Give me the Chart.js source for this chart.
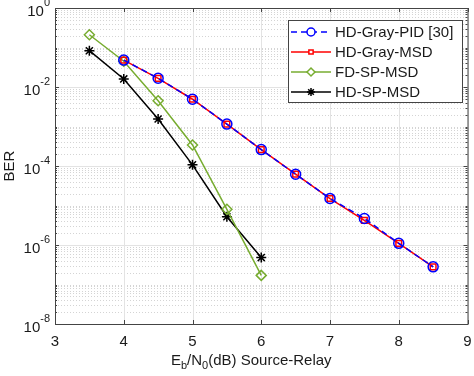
<!DOCTYPE html>
<html>
<head>
<meta charset="utf-8">
<script src="https://cdn.jsdelivr.net/npm/chart.js@4.4.1/dist/chart.umd.min.js"></script>
<style>
  html, body { margin: 0; padding: 0; background: #fff; }
  #wrap { width: 474px; height: 376px; }
</style>
</head>
<body>
<div id="wrap"><canvas id="chartCanvas" width="474" height="376"></canvas></div>
<script>
// dati
const snrHD = [4, 4.5, 5, 5.5, 6, 6.5, 7, 7.5, 8, 8.5];
const berGrayPID = [4.8e-2, 1.66e-2, 4.9e-3, 1.15e-3, 2.6e-4, 6.2e-5, 1.5e-5, 4.7e-6, 1.1e-6, 2.8e-7];
const berGrayMSD = [4.8e-2, 1.66e-2, 4.9e-3, 1.15e-3, 2.6e-4, 6.2e-5, 1.5e-5, 4.2e-6, 1.1e-6, 2.8e-7];
const snrSP = [3.5, 4, 4.5, 5, 5.5, 6];
const berFDSP = [0.21, 0.045, 4.5e-3, 3.4e-4, 8e-6, 1.7e-7];
const berHDSP = [0.083, 0.016, 1.55e-3, 1.07e-4, 5.2e-6, 4.8e-7];

const xTicks = [3, 4, 5, 6, 7, 8, 9];
const yMajorExp = [0, -2, -4, -6, -8];
const seriesNames = ['HD-Gray-PID [30]', 'HD-Gray-MSD', 'FD-SP-MSD', 'HD-SP-MSD'];

const FONT = '"Liberation Sans", Arial, sans-serif';
const pts = (xs, ys) => xs.map((x, i) => ({ x: x, y: ys[i] }));

const styles = [
    { color: '#0000ff', dash: [6, 4], point: 'circle', radius: 5 },
    { color: '#ff0000', dash: [], point: 'rect', radius: 4 },
    { color: '#77ac30', dash: [], point: 'rectRot', radius: 5 },
    { color: '#000000', dash: [], point: 'star', radius: 5 }
];
const seriesData = [pts(snrHD, berGrayPID), pts(snrHD, berGrayMSD), pts(snrSP, berFDSP), pts(snrSP, berHDSP)];

const datasets = seriesNames.map((name, i) => ({
    label: name,
    data: seriesData[i],
    borderColor: styles[i].color,
    backgroundColor: 'rgba(0,0,0,0)',
    borderWidth: 1.5,
    borderDash: styles[i].dash,
    pointStyle: styles[i].point,
    pointRadius: styles[i].radius,
    pointBorderColor: styles[i].color,
    pointBackgroundColor: 'rgba(0,0,0,0)',
    pointBorderWidth: 1.5,
    tension: 0,
    fill: false
}));

// griglia stile MATLAB
const gridPlugin = {
    id: 'matlabGrid',
    beforeDatasetsDraw(chart) {
        const { ctx, chartArea: a, scales: { x, y } } = chart;
        ctx.save();
        // minor orizzontali tratteggiate
        ctx.strokeStyle = '#d4d4d4';
        ctx.lineWidth = 1;
        ctx.setLineDash([1, 2]);
        for (let e = -8; e < 0; e++) {
            for (let k = 1; k <= 9; k++) {
                if (k === 1 && e % 2 === 0) continue;
                const py = Math.round(y.getPixelForValue(k * Math.pow(10, e))) + 0.5;
                ctx.beginPath(); ctx.moveTo(a.left, py); ctx.lineTo(a.right, py); ctx.stroke();
            }
        }
        // major
        ctx.setLineDash([]);
        ctx.strokeStyle = '#e3e3e3';
        yMajorExp.forEach(e => {
            const py = Math.round(y.getPixelForValue(Math.pow(10, e))) + 0.5;
            ctx.beginPath(); ctx.moveTo(a.left, py); ctx.lineTo(a.right, py); ctx.stroke();
        });
        xTicks.forEach(v => {
            const px = Math.round(x.getPixelForValue(v)) + 0.5;
            ctx.beginPath(); ctx.moveTo(px, a.top); ctx.lineTo(px, a.bottom); ctx.stroke();
        });
        ctx.restore();
    },
    afterDatasetsDraw(chart) {
        const { ctx, chartArea: a, scales: { x, y } } = chart;
        ctx.save();
        ctx.strokeStyle = '#444';
        ctx.lineWidth = 1;
        ctx.strokeRect(a.left + 0.5, a.top + 0.5, a.right - a.left, a.bottom - a.top);
        // tick interni
        xTicks.forEach(v => {
            const px = Math.round(x.getPixelForValue(v)) + 0.5;
            ctx.beginPath();
            ctx.moveTo(px, a.bottom); ctx.lineTo(px, a.bottom - 4);
            ctx.moveTo(px, a.top); ctx.lineTo(px, a.top + 4);
            ctx.stroke();
        });
        for (let e = -8; e <= 0; e++) {
            for (let k = 1; k <= 9; k++) {
                if (e === 0 && k > 1) continue;
                const major = k === 1 && e % 2 === 0;
                const len = major ? 4 : 2;
                const py = Math.round(y.getPixelForValue(k * Math.pow(10, e))) + 0.5;
                ctx.beginPath();
                ctx.moveTo(a.left, py); ctx.lineTo(a.left + len, py);
                ctx.moveTo(a.right, py); ctx.lineTo(a.right - len, py);
                ctx.stroke();
            }
        }
        ctx.restore();
    },
    afterDraw(chart) {
        const { ctx, chartArea: a, scales: { x, y } } = chart;
        ctx.save();
        ctx.fillStyle = '#1a1a1a';
        // etichette x
        ctx.font = '15px ' + FONT;
        ctx.textAlign = 'center';
        ctx.textBaseline = 'middle';
        xTicks.forEach(v => ctx.fillText(String(v), x.getPixelForValue(v), a.bottom + 18));
        // etichette y con esponente
        yMajorExp.forEach(e => {
            const py = y.getPixelForValue(Math.pow(10, e));
            const sup = e === 0 ? '0' : '-' + Math.abs(e);
            ctx.font = '11px ' + FONT;
            const sw = ctx.measureText(sup).width;
            const right = a.left - 5;
            ctx.textAlign = 'right';
            ctx.fillText(sup, right, py - 5);
            ctx.font = '15px ' + FONT;
            ctx.fillText('10', right - sw, py + 4);
        });
        // titolo asse y
        ctx.save();
        ctx.translate(10, 166);
        ctx.rotate(-Math.PI / 2);
        ctx.textAlign = 'center';
        ctx.font = '15px ' + FONT;
        ctx.fillText('BER', 0, 0);
        ctx.restore();
        // titolo asse x: E_b/N_0(dB) Source-Relay
        const parts = [['E', 0], ['b', 1], ['/N', 0], ['0', 1], ['(dB) Source-Relay', 0]];
        let tx = a.left + 116;
        const ty = 361;
        ctx.textAlign = 'left';
        parts.forEach(([t, sub]) => {
            ctx.font = (sub ? '11px ' : '15px ') + FONT;
            ctx.fillText(t, tx, sub ? ty + 5 : ty);
            tx += ctx.measureText(t).width;
        });
        // legenda
        const lx = 288, ly = 20, lw = 174, lh = 82;
        ctx.fillStyle = '#fff';
        ctx.fillRect(lx, ly, lw, lh);
        ctx.strokeStyle = '#444';
        ctx.lineWidth = 1;
        ctx.strokeRect(lx + 0.5, ly + 0.5, lw, lh);
        chart.data.datasets.forEach((ds, i) => {
            const ry = ly + 12 + i * 20;
            ctx.strokeStyle = ds.borderColor;
            ctx.lineWidth = 1.5;
            ctx.setLineDash(ds.borderDash);
            ctx.beginPath(); ctx.moveTo(lx + 3, ry); ctx.lineTo(lx + 43, ry); ctx.stroke();
            ctx.setLineDash([]);
            ctx.fillStyle = '#fff';
            Chart.helpers.drawPoint(ctx, {
                pointStyle: ds.pointStyle, radius: ds.pointRadius - 1, borderWidth: 1.5, rotation: 0
            }, lx + 23, ry);
            ctx.fillStyle = '#1a1a1a';
            ctx.font = '15px ' + FONT;
            ctx.textAlign = 'left';
            ctx.fillText(ds.label, lx + 47, ry + 1);
        });
        ctx.restore();
    }
};

const ctx = document.getElementById('chartCanvas').getContext('2d');
const chart = new Chart(ctx, {
    type: 'line',
    data: { datasets: datasets },
    options: {
        responsive: false,
        animation: false,
        layout: { padding: { left: 55, right: 5, top: 8, bottom: 52 } },
        plugins: { legend: { display: false }, tooltip: { enabled: false } },
        scales: {
            x: {
                type: 'linear', min: 3, max: 9,
                ticks: { display: false },
                grid: { display: false },
                border: { display: false },
                afterFit: s => { s.height = 0; }
            },
            y: {
                type: 'logarithmic', min: 1e-8, max: 1,
                ticks: { display: false },
                grid: { display: false },
                border: { display: false },
                afterFit: s => { s.width = 0; }
            }
        }
    },
    plugins: [gridPlugin]
});
</script>
</body>
</html>
